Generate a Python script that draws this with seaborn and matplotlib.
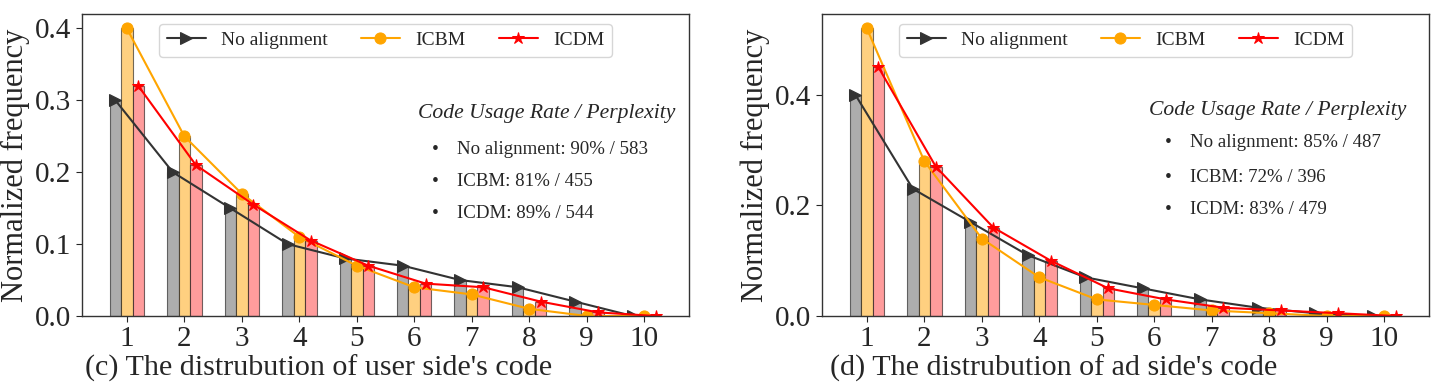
import matplotlib
matplotlib.use("Agg")
import matplotlib.pyplot as plt
import numpy as np
import pandas as pd
import seaborn as sns


codes = np.arange(1, 11)
methods = ["No alignment", "ICBM", "ICDM"]

user_none = [0.30, 0.20, 0.15, 0.10, 0.08, 0.07, 0.05, 0.04, 0.02, 0.00]
user_icbm = [0.40, 0.25, 0.17, 0.11, 0.07, 0.04, 0.03, 0.01, 0.00, 0.00]
user_icdm = [0.32, 0.21, 0.155, 0.105, 0.07, 0.045, 0.04, 0.02, 0.005, 0.00]

ad_none = [0.40, 0.23, 0.17, 0.11, 0.07, 0.05, 0.03, 0.015, 0.005, 0.00]
ad_icbm = [0.52, 0.28, 0.14, 0.07, 0.03, 0.02, 0.01, 0.005, 0.00, 0.00]
ad_icdm = [0.45, 0.27, 0.16, 0.10, 0.05, 0.03, 0.015, 0.01, 0.005, 0.00]

user_stats = ["No alignment: 90% / 583", "ICBM: 81% / 455", "ICDM: 89% / 544"]
ad_stats = ["No alignment: 85% / 487", "ICBM: 72% / 396", "ICDM: 83% / 479"]

user_caption = "(c) The distrubution of user side's code"
ad_caption = "(d) The distrubution of ad side's code"

bar_colors = ["#adadad", "#ffd080", "#ff9c9c"]
line_colors = ["#333333", "orange", "red"]
markers = [">", "o", "*"]
offsets = [-0.2, 0.0, 0.2]

sns.set_theme(style="ticks")
plt.rcParams["font.family"] = ["Liberation Serif", "DejaVu Serif"]


def draw_panel(ax, series, stats, yticks, text_pos):
    df = pd.DataFrame({
        "code": np.tile(codes, 3),
        "freq": np.concatenate(series),
        "method": np.repeat(methods, len(codes)),
    })
    sns.barplot(
        data=df, x="code", y="freq", hue="method", hue_order=methods,
        palette=bar_colors, native_scale=True, width=0.6, saturation=1,
        edgecolor=(0, 0, 0, 0.55), linewidth=0.8, legend=False, ax=ax,
    )
    for vals, name, col, mk, off in zip(series, methods, line_colors, markers, offsets):
        sns.lineplot(
            x=codes + off, y=vals, ax=ax, color=col, marker=mk,
            markersize=9 if mk != "o" else 8, markeredgecolor=col,
            linewidth=1.5, label=name,
        )

    top = max(max(s) for s in series) * 1.05
    ax.set_ylim(0, top)
    ax.set_xlim(0.22, 10.78)
    ax.set_xticks(codes)
    ax.set_xticklabels([str(c) for c in codes])
    ax.set_yticks(yticks)
    ax.set_yticklabels([f"{t:.1f}" for t in yticks])
    ax.tick_params(axis="both", labelsize=21, length=4, width=0.8)
    ax.set_xlabel("")
    ax.set_ylabel("Normalized frequency", fontsize=22, labelpad=4)
    for sp in ax.spines.values():
        sp.set_linewidth(1.0)
        sp.set_color("#333333")

    ax.legend(loc="upper center", ncol=3, fontsize=14, columnspacing=1.7,
              handlelength=2.0, handletextpad=0.8)

    tx, ty, bx, lx, ly = text_pos
    ax.text(tx, ty, "Code Usage Rate / Perplexity", transform=ax.transAxes,
            fontsize=15.6, style="italic", ha="left", va="center")
    for i, s in enumerate(stats):
        y = ly[i]
        ax.text(bx, y, "\u2022", transform=ax.transAxes, fontsize=14,
                ha="center", va="center")
        ax.text(lx, y, s, transform=ax.transAxes, fontsize=13.6,
                ha="left", va="center")


fig = plt.figure(figsize=(14.4, 3.88), dpi=100)
ax1 = fig.add_axes([82 / 1440, 72 / 388, 607 / 1440, 302 / 388])
ax2 = fig.add_axes([822 / 1440, 72 / 388, 607 / 1440, 302 / 388])

draw_panel(ax1, [user_none, user_icbm, user_icdm], user_stats,
           [0.0, 0.1, 0.2, 0.3, 0.4],
           (0.553, 0.672, 0.582, 0.618, [0.550, 0.447, 0.341]))
draw_panel(ax2, [ad_none, ad_icbm, ad_icdm], ad_stats,
           [0.0, 0.2, 0.4],
           (0.539, 0.682, 0.571, 0.607, [0.573, 0.457, 0.351]))

fig.text(85 / 1440, 1 - 368 / 388, user_caption, fontsize=21.6, ha="left", va="center")
fig.text(830 / 1440, 1 - 368 / 388, ad_caption, fontsize=21.6, ha="left", va="center")

fig.savefig("out.png", dpi=100)
